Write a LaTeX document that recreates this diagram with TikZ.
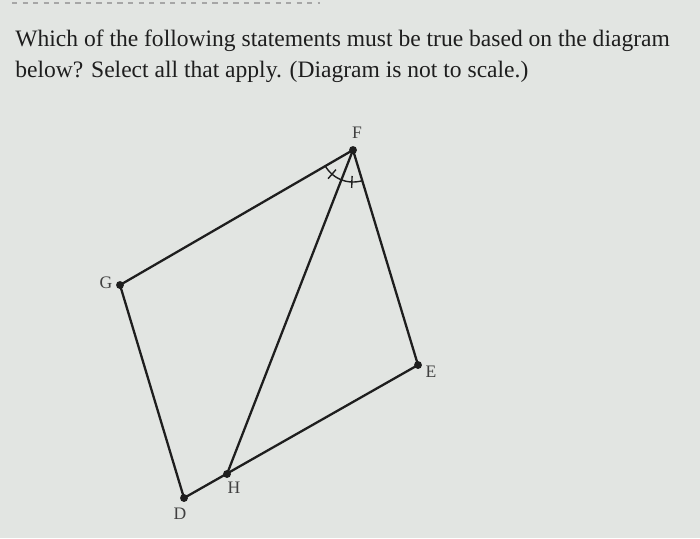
\documentclass[tikz,border=0pt]{standalone}
\usepackage{fontspec}
\setmainfont{Liberation Serif}
\usepackage{tikz}
\usetikzlibrary{ positioning, % For easy node-relative placements
               }
\definecolor{paper}{RGB}{226,229,226}
\definecolor{ink}{RGB}{30,30,30}
\tikzset{
  side/.style={draw=ink, line width=1.3pt},
  vertex/.style={circle, fill=ink, inner sep=0pt, minimum size=4.5pt},
  vlabel/.style={text=ink!85, font=\fontsize{10}{12}\selectfont, inner sep=1pt},
  anglemark/.style={draw=ink, line width=0.8pt},
  question/.style={anchor=base west, inner sep=0pt, text=ink,
                   font=\fontsize{13.4}{16}\selectfont},
}

\begin{document}
\begin{tikzpicture}[x=0.02cm, y=-0.02cm]
    \fill[paper] (0,0) rectangle (700,538);
    \useasboundingbox (0,0) rectangle (700,538);
    \draw[gray!70, dashed, line width=0.8pt] (12,3) -- (320,3);
    % question text
    \node[question] (q1) at (15,46)
      {Which of the following statements must be true based on the diagram};
    \node[question] (q2) at (15,77)
      {below? Select all that apply. (Diagram is not to scale.)};
    % points
    \node[vertex] (F) at (353,150) {};
    \node[vertex] (G) at (120,285) {};
    \node[vertex] (E) at (418,365) {};
    \node[vertex] (D) at (184,498) {};
    \node[vertex] (H) at (227,474) {};
    \node[vlabel] (lF) at (357,133) {F};
    \node[vlabel] (lG) at (106,283) {G};
    \node[vlabel] (lE) at (431,372) {E};
    \node[vlabel] (lD) at (180,514) {D};
    \node[vlabel] (lH) at (234,488) {H};
    \draw[side] (F.center) -- (G.center) -- (D.center) -- (E.center) -- (F.center);
    \draw[side] (F.center) -- (H.center);
    % congruent angles at F
    \draw[anglemark] plot[domain=111.3:150.1, samples=20] ([shift={(\x:32)}]F.center);
    \draw[anglemark] plot[domain=73.2:111.3, samples=20] ([shift={(\x:32)}]F.center);
    \draw[anglemark] ([shift={(131:26)}]F.center) -- ([shift={(131:38)}]F.center);
    \draw[anglemark] ([shift={(92:26)}]F.center) -- ([shift={(92:38)}]F.center);
\end{tikzpicture}
\end{document}
